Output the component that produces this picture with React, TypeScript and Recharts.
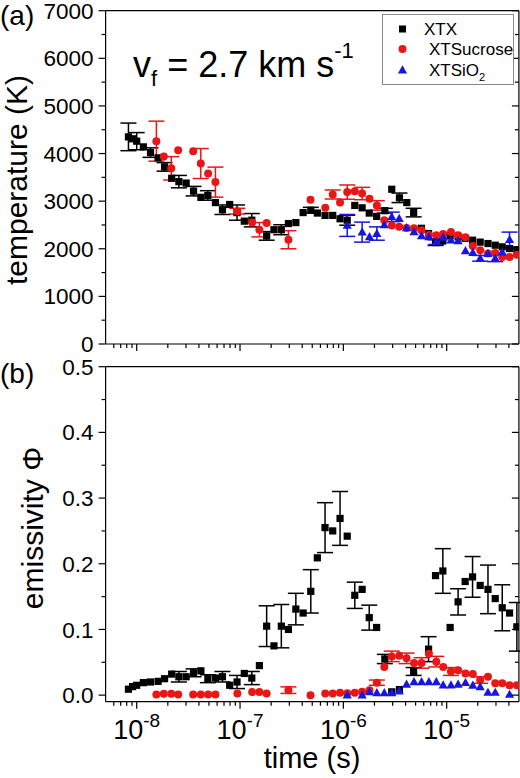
import React from 'react';
import { ScatterChart, Scatter, XAxis, YAxis, ErrorBar, Legend, Label } from 'recharts';

// ---- data ----
const timeXTX = [
  8.32e-9, 9.12e-9, 1.0e-8, 1.16e-8, 1.36e-8, 1.61e-8, 1.86e-8, 2.18e-8, 2.56e-8, 3.01e-8,
  3.55e-8, 4.18e-8, 4.88e-8, 5.78e-8, 6.76e-8, 7.94e-8, 9.35e-8, 1.1e-7, 1.3e-7, 1.54e-7,
  1.81e-7, 2.13e-7, 2.51e-7, 2.94e-7, 3.47e-7, 4.08e-7, 4.84e-7, 5.6e-7, 6.65e-7, 7.89e-7,
  9.29e-7, 1.09e-6, 1.29e-6, 1.52e-6, 1.78e-6, 2.1e-6, 2.52e-6, 2.94e-6, 3.49e-6, 4.11e-6,
  4.79e-6, 5.69e-6, 6.68e-6, 7.8e-6, 9.18e-6, 1.08e-5, 1.29e-5, 1.51e-5, 1.78e-5, 2.11e-5,
  2.51e-5, 2.95e-5, 3.45e-5, 4.06e-5, 4.78e-5,
];
const tempXTX = [
  4350, 4310, 4260, 4140, 4020, 3910, 3720, 3480, 3410, 3380,
  3210, 3080, 3120, 2970, 2820, 2930, 2760, 2580, 2600, null,
  2270, 2400, 2400, 2530, 2550, 2760, 2810, 2750, 2700, 2700,
  2630, 2600, 2910, 2860, 2750, 2680, 2800, 3250, 3070, 2970,
  2760, 2430, 2320, 2130, 2165, 2270, 2250, 2220, 2180, 2140,
  2110, 2075, 2040, 2005, 1980,
];
const tempErrXTX = [
  290, 0, 180, 0, 100, 0, 90, 0, 130, 0,
  100, 0, 100, 0, 100, 0, 160, 0, 140, 0,
  90, 0, 105, 0, 0, 0, 60, 0, 0, 0,
  0, 105, 0, 0, 0, 0, 50, 0, 100, 0,
  90, 0, 0, 60, 0, 0, 0, 0, 0, 0,
  0, 0, 0, 0, 0,
];
const emisXTX = [
  0.009, 0.013, 0.015, 0.019, 0.02, 0.021, 0.025, 0.032, 0.028, 0.028,
  0.034, 0.037, 0.025, 0.026, 0.028, 0.015, 0.02, 0.033, 0.026, 0.045,
  0.105, 0.075, 0.105, 0.1, 0.131, 0.125, 0.158, 0.209, 0.255, 0.25,
  0.269, 0.242, 0.152, 0.161, 0.118, 0.103, 0.055, 0.005, 0.0085, null,
  0.036, null, 0.07, 0.182, 0.189, 0.103, 0.142, 0.173, 0.18, 0.167,
  0.161, 0.147, 0.133, 0.125, 0.104,
];
const emisErrXTX = [
  0, 0, 0, 0, 0, 0, 0, 0, 0.008, 0,
  0.006, 0, 0.006, 0, 0.008, 0, 0.01, 0, 0.01, 0,
  0.031, 0, 0.033, 0, 0.024, 0, 0.033, 0, 0.038, 0,
  0.041, 0, 0.02, 0, 0.019, 0, 0.007, 0, 0, 0,
  0.006, 0, 0.019, 0, 0.034, 0, 0.02, 0, 0.031, 0,
  0.037, 0, 0.035, 0, 0.037,
];

const timeSucrose = [
  1.55e-8, 1.83e-8, 2.16e-8, 2.52e-8, 3.52e-8, 4.17e-8, 4.91e-8, 5.78e-8, 9.42e-8, 1.31e-7,
  1.54e-7, 1.81e-7, 2.94e-7, 4.81e-7, 6.68e-7, 7.89e-7, 9.29e-7, 1.09e-6, 1.29e-6, 1.52e-6,
  1.79e-6, 2.11e-6, 2.49e-6, 2.94e-6, 3.47e-6, 4.09e-6, 4.83e-6, 5.71e-6, 6.73e-6, 7.94e-6,
  9.25e-6, 1.1e-5, 1.29e-5, 1.52e-5, 1.79e-5, 2.11e-5, 2.51e-5, 2.95e-5, 3.45e-5, 4.06e-5,
  4.78e-5,
];
const tempSucrose = [
  4260, 3940, 3690, 4070, 4050, 3790, 3580, 3400, 2790, 2550,
  2400, 2540, 2190, 3030, 2860, 3140, 2970, 3190, 3210, 3160,
  3050, 2910, 2600, 2490, 2460, 2435, 2430, 2390, 2290, 2285,
  2310, 2350, 2285, 2240, 2060, 1970, 1900, 1910, 1825, 1825,
  1875,
];
const tempErrSucrose = [
  420, 0, 245, 0, 0, 315, 0, 315, 60, 0,
  150, 0, 190, 0, 0, 95, 0, 150, 0, 130,
  0, 100, 0, 0, 0, 0, 0, 0, 0, 0,
  0, 0, 0, 0, 0, 0, 0, 0, 0, 0,
  0,
];
const emisSucrose = [
  0.001, 0.002, 0.002, 0.001, 0.001, 0.001, 0.001, 0.001, 0.0025, 0.0046,
  0.0046, 0.0025, 0.0076, 0.0, 0.0025, 0.0025, 0.0036, 0.003, 0.0036, 0.0051,
  0.0076, 0.019, 0.043, 0.059, 0.06, 0.056, 0.049, 0.049, 0.063, 0.051,
  0.043, 0.036, 0.038, 0.033, 0.032, 0.023, 0.028, 0.018, 0.018, 0.015,
  0.015,
];
const emisErrSucrose = [
  0, 0, 0, 0, 0, 0, 0, 0, 0, 0,
  0, 0, 0.005, 0, 0, 0, 0, 0, 0, 0,
  0, 0.004, 0, 0.008, 0, 0.008, 0, 0.008, 0, 0.008,
  0, 0.006, 0, 0, 0, 0.005, 0, 0, 0, 0,
  0,
];

const timeSiO2 = [
  1.09e-6, 1.29e-6, 1.52e-6, 1.79e-6, 2.11e-6, 2.49e-6, 2.94e-6, 3.47e-6, 4.09e-6, 4.83e-6,
  5.71e-6, 6.73e-6, 7.94e-6, 9.25e-6, 1.1e-5, 1.29e-5, 1.52e-5, 1.79e-5, 2.11e-5, 2.51e-5,
  2.95e-5, 3.45e-5, 4.06e-5, 4.78e-5,
];
const tempSiO2 = [
  2490, null, 2350, 2250, 2320, 2500, 2670, 2634, 2440, 2355,
  2270, 2250, 2150, 2240, 2180, 2165, 1956, 1920, 1800, 1900,
  1800, 1930, 2190, null,
];
const tempErrSiO2 = [
  230, 0, 210, 0, 140, 0, 100, 0, 0, 0,
  0, 0, 60, 0, 0, 0, 0, 0, 60, 0,
  70, 0, 160, 0,
];
const emisSiO2 = [
  0.0, null, 0.0, 0.005, 0.0036, 0.0036, 0.0036, 0.0061, 0.0163, 0.0204,
  0.0204, 0.0204, 0.0204, 0.0153, 0.0153, 0.0163, 0.0189, 0.0148, 0.0127, 0.0041,
  0.0041, null, 0.001, null,
];

// axis ticks
const timeMajorTicks = [1e-8, 1e-7, 1e-6, 1e-5];
const timeMinorSteps = [2, 3, 4, 5, 6, 7, 8, 9];
const tempMajorTicks = [0, 1000, 2000, 3000, 4000, 5000, 6000, 7000];
const tempMinorTicks = [500, 1500, 2500, 3500, 4500, 5500, 6500];
const emisMajorTicks = [0, 0.1, 0.2, 0.3, 0.4, 0.5];
const emisMinorTicks = [0.05, 0.15, 0.25, 0.35, 0.45];

const seriesNames = ['XTX', 'XTSucrose', 'XTSiO'];

const FONT = "'Liberation Sans', Arial, Helvetica, sans-serif";
const RED = '#ec1515';
const BLUE = '#1616e4';
const TIME_DOMAIN = [5e-9, 5e-5];

const timeTicks = [
  6e-9, 7e-9, 8e-9, 9e-9,
  ...timeMajorTicks,
  ...[1e-8, 1e-7, 1e-6].flatMap((d) => timeMinorSteps.map((m) => m * d)),
  2e-5, 3e-5, 4e-5,
];

const rows = (t: number[], v: (number | null)[], e: number[]) =>
  t
    .map((ti, i) => ({ t: ti, v: v[i], e: e[i] ? e[i] : undefined }))
    .filter((r) => r.v !== null);

const isDecade = (v: number) => Math.abs(Math.log10(v) - Math.round(Math.log10(v))) < 1e-6;

const SquareDot = (p: any) => (
  <rect x={p.cx - 3.6} y={p.cy - 3.6} width={7.2} height={7.2} fill="#000" />
);
const CircleDot = (p: any) => <circle cx={p.cx} cy={p.cy} r={4} fill={RED} />;
const TriangleDot = (p: any) => (
  <polygon
    points={`${p.cx},${p.cy - 4.8} ${p.cx + 4.6},${p.cy + 3.4} ${p.cx - 4.6},${p.cy + 3.4}`}
    fill={BLUE}
  />
);

// ticks (tickSize 0 so x/y sit on the axis line)
const timeTickBottom = (withLabel: boolean) => (p: any) => {
  const v = p.payload.value;
  const major = isDecade(v);
  return (
    <g>
      <line x1={p.x} x2={p.x} y1={p.y} y2={p.y + (major ? 7 : 4)} stroke="#000" strokeWidth={1.2} />
      {withLabel && major && (
        <text x={p.x} y={p.y + 37} textAnchor="middle" fontSize={27} fontFamily={FONT} fill="#000">
          10
          <tspan dy={-12} fontSize={19}>
            {String(Math.round(Math.log10(v)))}
          </tspan>
        </text>
      )}
    </g>
  );
};
const timeTickTop = (p: any) => {
  const major = isDecade(p.payload.value);
  return <line x1={p.x} x2={p.x} y1={p.y} y2={p.y + (major ? 7 : 4)} stroke="#000" strokeWidth={1.2} />;
};
const valueTickLeft = (majors: number[], fmt: (v: number) => string) => (p: any) => {
  const v = p.payload.value;
  const major = majors.includes(v);
  return (
    <g>
      <line x1={p.x} x2={p.x - (major ? 7 : 4)} y1={p.y} y2={p.y} stroke="#000" strokeWidth={1.2} />
      {major && (
        <text x={p.x - 12} y={p.y} dy="0.36em" textAnchor="end" fontSize={22.5} fontFamily={FONT} fill="#000">
          {fmt(v)}
        </text>
      )}
    </g>
  );
};
const valueTickRight = (majors: number[]) => (p: any) => {
  const major = majors.includes(p.payload.value);
  return <line x1={p.x} x2={p.x - (major ? 7 : 4)} y1={p.y} y2={p.y} stroke="#000" strokeWidth={1.2} />;
};

const axisLine = { stroke: '#000', strokeWidth: 1.2 };

const LegendBox = () => {
  const rowsY = [15, 35, 56];
  const textX = [42, 47, 47];
  return (
    <svg width={132} height={71} style={{ display: 'block' }}>
      <rect x={0.5} y={0.5} width={131} height={70} fill="#fff" stroke="#8a8a8a" strokeWidth={1} />
      <rect x={17} y={rowsY[0] - 3.5} width={7} height={7} fill="#000" />
      <circle cx={20.5} cy={rowsY[1]} r={4} fill={RED} />
      <polygon points={`20.5,${rowsY[2] - 4.8} 25.1,${rowsY[2] + 3.4} 15.9,${rowsY[2] + 3.4}`} fill={BLUE} />
      {seriesNames.map((n, i) => (
        <text key={n} x={textX[i]} y={rowsY[i]} dy="0.36em" fontSize={17} fontFamily={FONT} fill="#000">
          {n}
          {i === 2 && (
            <tspan dy={5} fontSize={11}>
              2
            </tspan>
          )}
        </text>
      ))}
    </svg>
  );
};

const TextLabel = (props: { children: React.ReactNode; x: number; y: number; size: number; rotate?: boolean; anchor?: string }) => (
  <text
    x={props.x}
    y={props.y}
    fontSize={props.size}
    fontFamily={FONT}
    fill="#000"
    textAnchor={props.anchor || 'start'}
    transform={props.rotate ? `rotate(-90 ${props.x} ${props.y})` : undefined}
  >
    {props.children}
  </text>
);

// axes need a non-zero size to be drawn, so each takes 1px out of the margin
const timeAxisProps = {
  type: 'number' as const,
  scale: 'log' as const,
  domain: TIME_DOMAIN,
  allowDataOverflow: true,
  ticks: timeTicks,
  interval: 0,
  height: 1,
  tickSize: 0,
  tickMargin: 0,
  tickLine: false,
  axisLine,
};

// panel (b) svg starts 20px above its plot area so the top labels are not clipped
const B_TOP = 340;

export default function App() {
  const xtxTemp = rows(timeXTX, tempXTX, tempErrXTX);
  const sucTemp = rows(timeSucrose, tempSucrose, tempErrSucrose);
  const sioTemp = rows(timeSiO2, tempSiO2, tempErrSiO2);
  const xtxEmis = rows(timeXTX, emisXTX, emisErrXTX);
  const sucEmis = rows(timeSucrose, emisSucrose, emisErrSucrose);
  const sioEmis = rows(timeSiO2, emisSiO2, []);

  const tempAxisProps = {
    type: 'number' as const,
    domain: [0, 7000],
    allowDataOverflow: true,
    ticks: [...tempMajorTicks, ...tempMinorTicks],
    interval: 0,
    width: 1,
    tickSize: 0,
    tickMargin: 0,
    tickLine: false,
    axisLine,
  };
  const emisAxisProps = { ...tempAxisProps, domain: [-0.01, 0.5], ticks: [...emisMajorTicks, ...emisMinorTicks] };

  return (
    <div style={{ position: 'absolute', left: 0, top: 0, width: 520, height: 778, background: '#fff' }}>
      <div style={{ position: 'absolute', left: 0, top: 0 }}>
        <ScatterChart width={520} height={360} margin={{ top: 9.7, right: 0.1, bottom: 15, left: 104.6 }}>
          <XAxis dataKey="t" {...timeAxisProps} tick={timeTickBottom(false)} />
          <XAxis xAxisId="top" orientation="top" {...timeAxisProps} tick={timeTickTop} />
          <YAxis dataKey="v" {...tempAxisProps} tick={valueTickLeft(tempMajorTicks, (v) => String(v))}>
            <Label
              content={() => (
                <g>
                  <TextLabel x={27} y={180} size={30} rotate anchor="middle">
                    temperature (K)
                  </TextLabel>
                  <TextLabel x={0} y={25} size={28}>
                    (a)
                  </TextLabel>
                  <text x={133} y={77} fontSize={36} fontFamily={FONT} fill="#000">
                    v
                    <tspan dy={9} fontSize={22}>
                      f
                    </tspan>
                    <tspan dy={-9} fontSize={36}>
                      {' = 2.7 km s'}
                    </tspan>
                    <tspan dy={-19} fontSize={22}>
                      -1
                    </tspan>
                  </text>
                </g>
              )}
            />
          </YAxis>
          <YAxis yAxisId="right" orientation="right" {...tempAxisProps} tick={valueTickRight(tempMajorTicks)} />
          <Legend
            layout="vertical"
            align="center"
            verticalAlign="middle"
            wrapperStyle={{ position: 'absolute', left: 381.5, top: 14, width: 132, height: 71 }}
            content={() => <LegendBox />}
          />
          <Scatter name="XTX" data={xtxTemp} shape={SquareDot} isAnimationActive={false}>
            <ErrorBar dataKey="e" direction="y" width={8} stroke="#000" strokeWidth={1.5} />
          </Scatter>
          <Scatter name="XTSucrose" data={sucTemp} shape={CircleDot} isAnimationActive={false}>
            <ErrorBar dataKey="e" direction="y" width={8} stroke={RED} strokeWidth={1.5} />
          </Scatter>
          <Scatter name="XTSiO2" data={sioTemp} shape={TriangleDot} isAnimationActive={false}>
            <ErrorBar dataKey="e" direction="y" width={8} stroke={BLUE} strokeWidth={1.5} />
          </Scatter>
        </ScatterChart>
      </div>

      <div style={{ position: 'absolute', left: 0, top: B_TOP }}>
        <ScatterChart width={520} height={778 - B_TOP} margin={{ top: 25.7, right: 0.1, bottom: 75.3, left: 104.6 }}>
          <XAxis dataKey="t" {...timeAxisProps} tick={timeTickBottom(true)}>
            <Label
              content={() => (
                <TextLabel x={312} y={768 - B_TOP} size={29} anchor="middle">
                  time (s)
                </TextLabel>
              )}
            />
          </XAxis>
          <XAxis xAxisId="top" orientation="top" {...timeAxisProps} tick={timeTickTop} />
          <YAxis dataKey="v" {...emisAxisProps} tick={valueTickLeft(emisMajorTicks, (v) => v.toFixed(1))}>
            <Label
              content={() => (
                <g>
                  <TextLabel x={43} y={528 - B_TOP} size={30} rotate anchor="middle">
                    emissivity Φ
                  </TextLabel>
                  <TextLabel x={0} y={383 - B_TOP} size={28}>
                    (b)
                  </TextLabel>
                </g>
              )}
            />
          </YAxis>
          <YAxis yAxisId="right" orientation="right" {...emisAxisProps} tick={valueTickRight(emisMajorTicks)} />
          <Scatter name="XTX" data={xtxEmis} shape={SquareDot} isAnimationActive={false}>
            <ErrorBar dataKey="e" direction="y" width={8} stroke="#000" strokeWidth={1.5} />
          </Scatter>
          <Scatter name="XTSucrose" data={sucEmis} shape={CircleDot} isAnimationActive={false}>
            <ErrorBar dataKey="e" direction="y" width={8} stroke={RED} strokeWidth={1.5} />
          </Scatter>
          <Scatter name="XTSiO2" data={sioEmis} shape={TriangleDot} isAnimationActive={false} />
        </ScatterChart>
      </div>
    </div>
  );
}
